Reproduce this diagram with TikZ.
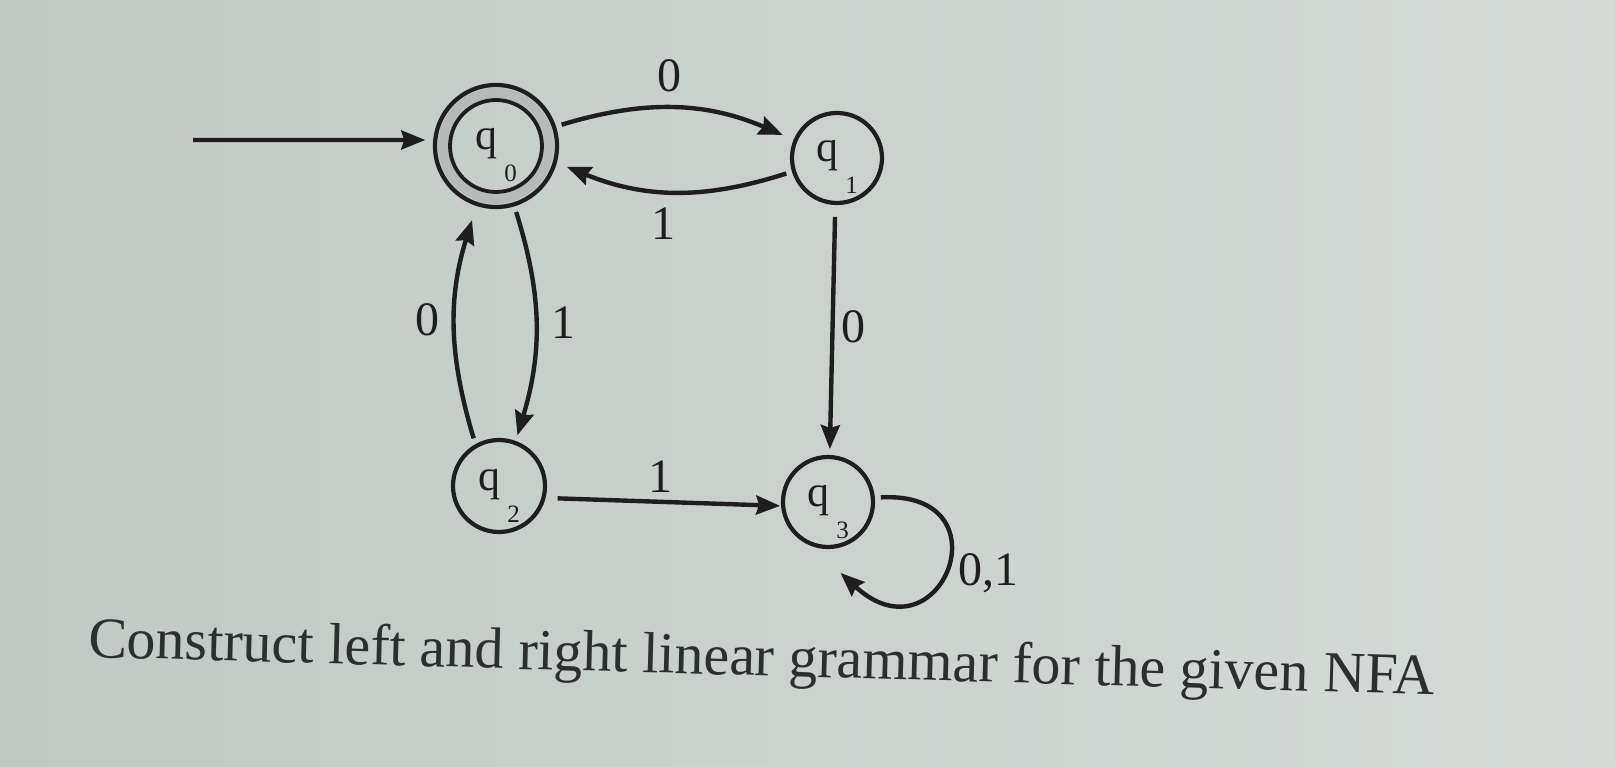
\documentclass[tikz,border=0pt]{standalone}
\usepackage{fontspec}
\setmainfont{Liberation Serif}
\usetikzlibrary{arrows.meta}
\definecolor{bgl}{RGB}{192,201,196}
\definecolor{bgr}{RGB}{214,219,216}
\definecolor{ink}{RGB}{30,30,30}
\definecolor{capink}{RGB}{45,47,46}
\newcommand\stlab[1]{\raisebox{-4pt}{q\hspace{7pt}\raisebox{-32pt}{\fontsize{25}{25}\selectfont #1}}}
\begin{document}
\begin{tikzpicture}[x=1pt,y=1pt,
  state/.style={circle, draw=ink, line width=4.2pt, minimum size=90pt, inner sep=0pt,
    outer sep=8pt, text height=0pt, text depth=0pt, font=\fontsize{44}{44}\selectfont, text=ink},
  edge/.style={draw=ink, line width=4.4pt, -{Stealth[length=24pt,width=19pt,inset=3pt]}},
  lab/.style={inner sep=0pt, font=\fontsize{48}{48}\selectfont, text=ink}]
\shade[left color=bgl, right color=bgr] (0,0) rectangle (1615,-767);
\useasboundingbox (0,0) rectangle (1615,-767);

% states
\node[state, minimum size=122pt] (q0) at (496,-146) {\stlab{0}};
\node[state] (q1) at (837,-158) {\stlab{1}};
\node[state, minimum size=92pt] (q2) at (499,-486) {\stlab{2}};
\node[state] (q3) at (828,-502) {\stlab{3}};
\fill[gray!80, opacity=0.35, even odd rule] (q0.center) circle[radius=58pt] circle[radius=48pt];
\draw[ink, line width=3.8pt] (q0.center) circle[radius=46pt];

% start arrow
\coordinate (init) at (193,-140);
\draw[edge, shorten >=2pt] (init) -- (q0.175);

% transitions
\draw[edge, shorten >=6pt] (q0.18) to[bend left=20] (q1.157);
\draw[edge, shorten >=5pt] (q1.197) to[bend left=20] (q0.-16.5);
\draw[edge] (q0.-73) to[bend left=17] (q2.70.5);
\draw[edge, shorten >=9pt] (q2.118) to[bend left=17] (q0.252);
\draw[edge, shorten <=6pt] (q1.-92) -- (q3.88);
\draw[edge, shorten <=6pt, shorten >=-5pt] (q2.-13.5) -- (q3.184);
\coordinate (loopend) at ([shift={(-80:72pt)}]q3.center);
\draw[edge] (q3.5) .. controls +(129,7) and +(100,-92) .. (loopend);

% labels
\node[lab] (l01) at (669,-76) {0};
\node[lab] (l10) at (663,-224) {1};
\node[lab] (l20) at (427,-320) {0};
\node[lab] (l02) at (563,-323) {1};
\node[lab] (l13) at (853,-327) {0};
\node[lab] (l23) at (660,-477) {1};
\node[lab, anchor=base west] (l33) at (958,-585) {0,1};

% caption
\node[anchor=base west, inner sep=0pt, rotate=-1.6, text=capink,
  font=\fontsize{58}{58}\selectfont] (cap) at (88,-657)
  {Construct left and right linear grammar for the given NFA};
\end{tikzpicture}
\end{document}
